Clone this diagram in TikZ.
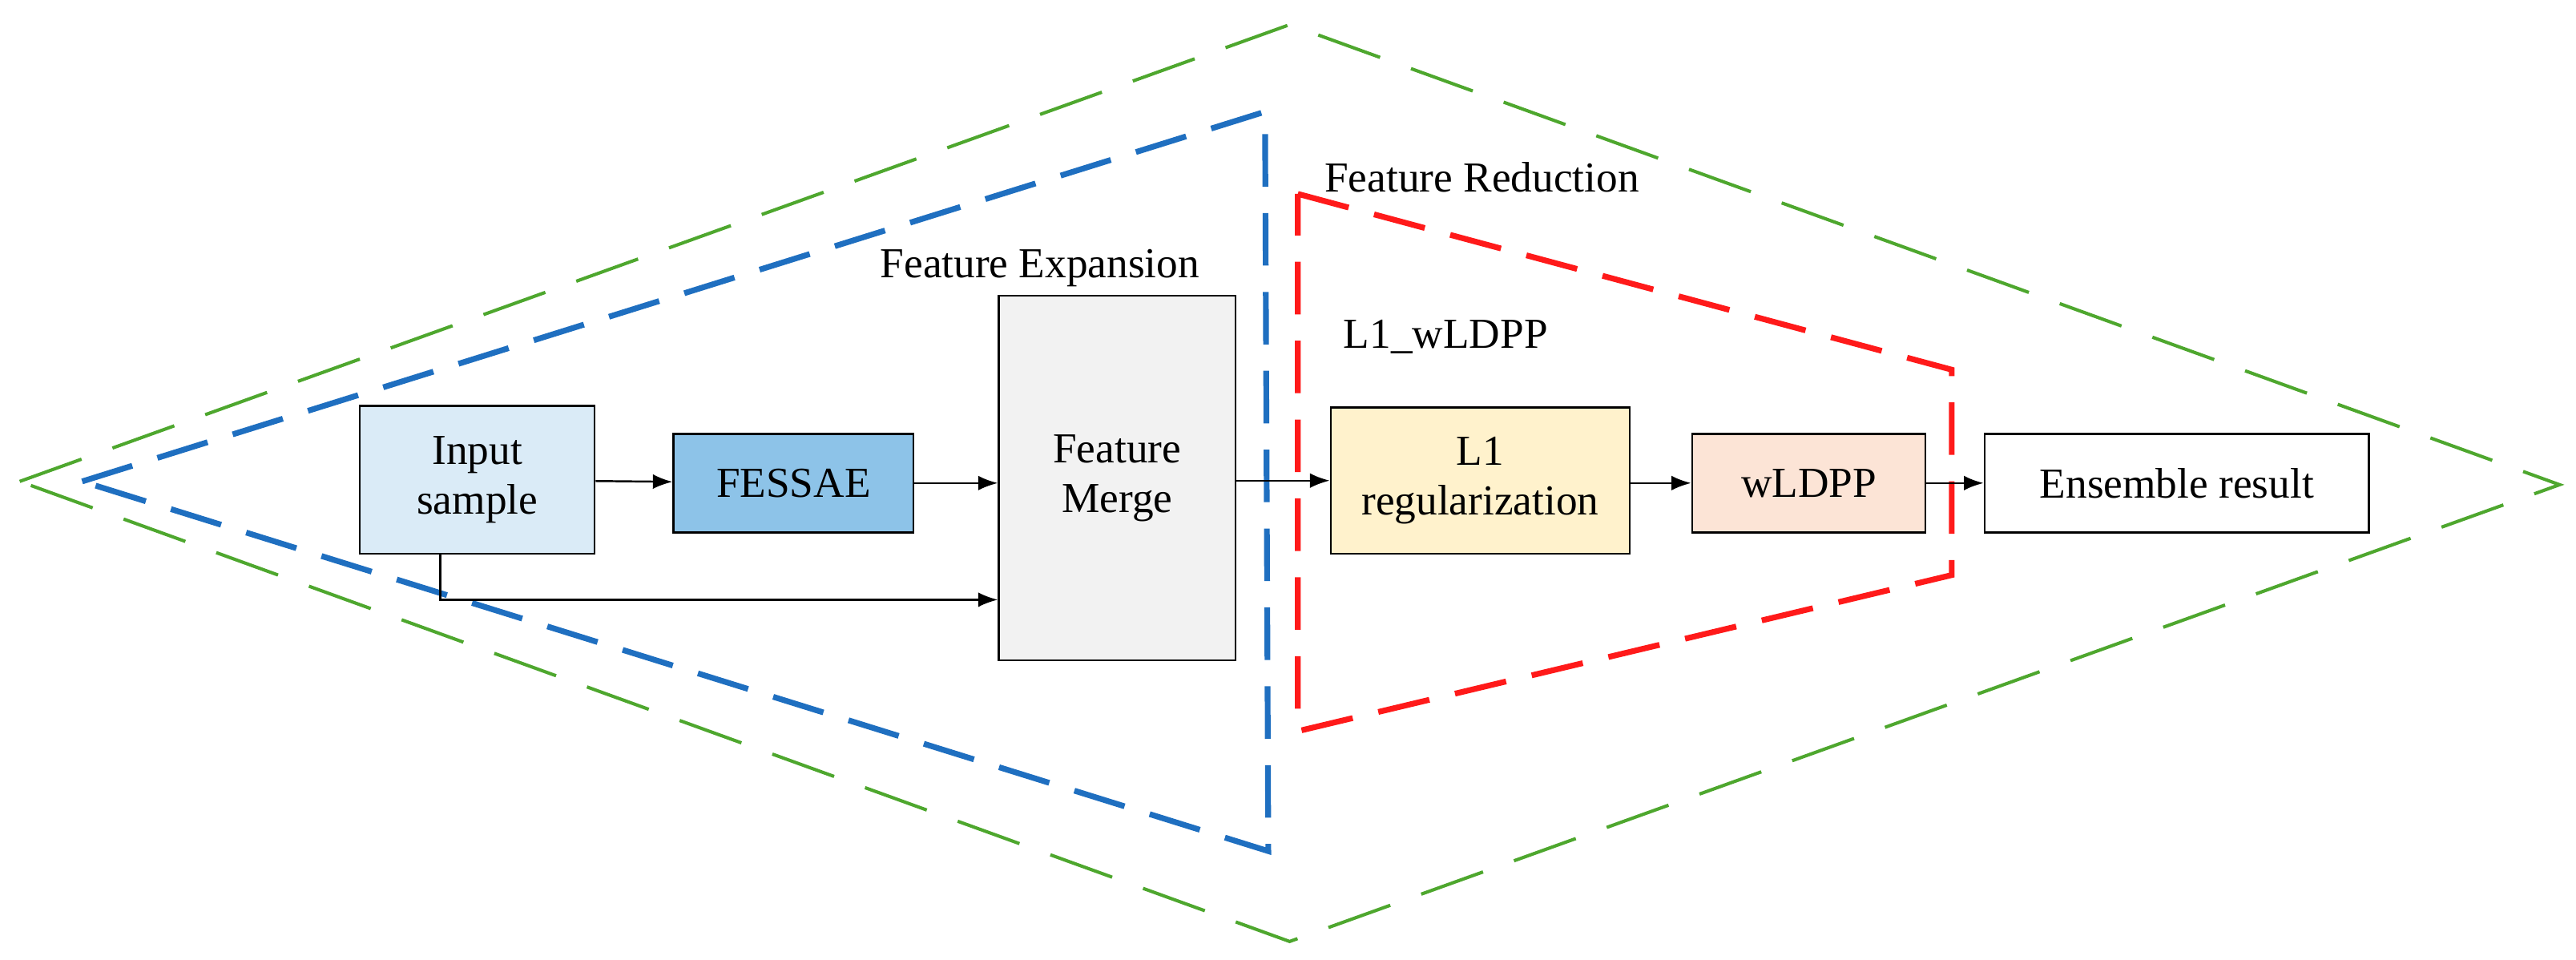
\documentclass[tikz,border=0pt]{standalone}
\usepackage{fontspec}
\setmainfont{Liberation Serif}
\usetikzlibrary{arrows.meta}
\definecolor{gdash}{HTML}{4EA72E}
\definecolor{bdash}{HTML}{1F6FC0}
\definecolor{rdash}{HTML}{FF1A1A}
\definecolor{cin}{HTML}{DAEBF7}
\definecolor{cfe}{HTML}{8DC3E8}
\definecolor{cme}{HTML}{F2F2F2}
\definecolor{cl1}{HTML}{FFF2CC}
\definecolor{cwl}{HTML}{FCE4D6}
\begin{document}
\begin{tikzpicture}[x=1pt,y=-1pt,
  box/.style={draw,line width=1.2pt,inner sep=0pt,align=center,font=\fontsize{26}{30}\selectfont},
  lbl/.style={font=\fontsize{26}{30}\selectfont,inner sep=0pt},
  arr/.style={-{Latex[length=12pt,width=9pt]},line width=1.2pt}]
\useasboundingbox (0,0) rectangle (1568,584);
% dashed outlines
\draw[gdash,line width=2pt,dash pattern=on 40pt off 20pt] (12,293) -- (785,15) -- (1558,295) -- (785,573) -- cycle;
\draw[bdash,line width=3.5pt,dash pattern=on 32pt off 16pt] (50,293) -- (770,68) -- (772,518) -- cycle;
\draw[rdash,line width=3.5pt,dash pattern=on 32pt off 16pt] (790,118) -- (1188,225) -- (1188,350) -- (790,445) -- cycle;
% boxes
\node[box,fill=cin,minimum width=143pt,minimum height=90pt] (in) at (290.5,292) {Input\\sample};
\node[box,fill=cfe,minimum width=146pt,minimum height=60pt] (fe) at (483,294) {FESSAE};
\node[box,fill=cme,minimum width=144pt,minimum height=222pt] (me) at (680,291) {Feature\\Merge};
\node[box,fill=cl1,minimum width=182pt,minimum height=89pt] (l1) at (901,292.5) {L1\\regularization};
\node[box,fill=cwl,minimum width=142pt,minimum height=60pt] (wl) at (1101,294) {wLDPP};
\node[box,fill=white,minimum width=234pt,minimum height=60pt] (en) at (1325,294) {Ensemble result};
% labels
\node[lbl] (lexp) at (633,163) {Feature Expansion};
\node[lbl] (lred) at (902,108) {Feature Reduction};
\node[lbl] (lwl) at (880,205) {L1\_wLDPP};
% arrows
\draw[arr] (in) -- (fe);
\draw[arr] (fe) -- (fe -| me.west);
\draw[arr] (me.east |- l1) -- (l1);
\draw[arr] (l1.east |- wl) -- (wl);
\draw[arr] (wl) -- (en);
\coordinate (c1) at (268,365);
\draw[arr] (in.south -| c1) -- (c1) -- (c1 -| me.west);
\end{tikzpicture}
\end{document}
